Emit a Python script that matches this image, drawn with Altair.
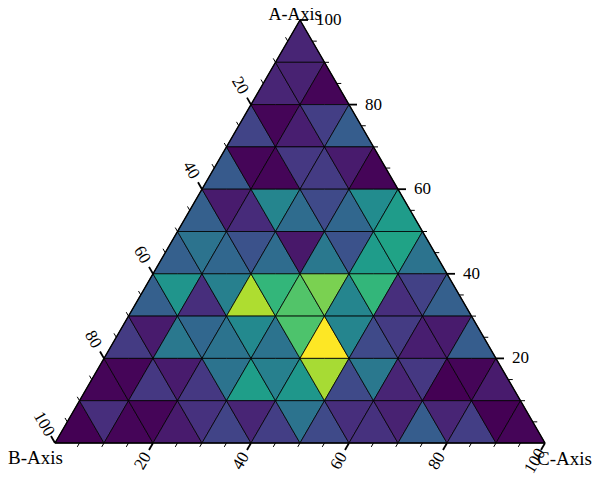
import altair as alt
import numpy as np
import pandas as pd

# colour values (0..1 on the viridis scale), row by row from the top, left to right
row0 = [0.10]
row1 = [0.10, 0.09, 0.01]
row2 = [0.20, 0.01, 0.08, 0.18, 0.29]
row3 = [0.28, 0.01, 0.01, 0.16, 0.17, 0.07, 0.01]
row4 = [0.30, 0.07, 0.12, 0.45, 0.35, 0.22, 0.33, 0.48, 0.55]
row5 = [0.30, 0.38, 0.33, 0.25, 0.35, 0.06, 0.40, 0.25, 0.55, 0.58, 0.38]
row6 = [0.30, 0.52, 0.13, 0.43, 0.88, 0.66, 0.73, 0.80, 0.45, 0.66, 0.13, 0.19, 0.30]
row7 = [0.17, 0.07, 0.40, 0.33, 0.38, 0.47, 0.38, 0.72, 1.00, 0.45, 0.22, 0.17, 0.08, 0.07, 0.29]
row8 = [0.01, 0.01, 0.16, 0.07, 0.16, 0.38, 0.56, 0.43, 0.53, 0.87, 0.22, 0.40, 0.10, 0.16, 0.00, 0.01, 0.07]
row9 = [0.00, 0.13, 0.01, 0.01, 0.07, 0.14, 0.20, 0.10, 0.18, 0.38, 0.22, 0.13, 0.14, 0.09, 0.29, 0.10, 0.18, 0.00, 0.01]
rows = [row0, row1, row2, row3, row4, row5, row6, row7, row8, row9]

major_ticks = [20, 40, 60, 80, 100]
minor_ticks = [5, 10, 15, 25, 30, 35, 45, 50, 55, 65, 70, 75, 85, 90, 95]
tick_labels = ["20", "40", "60", "80", "100"]

FONT = "Liberation Serif"
S3 = np.sqrt(3) / 2

# ternary (A top, B left, C right) -> cartesian
def cart(a, c):
    return c + a / 2.0, a * S3

# ---- cells ----
recs = []
for r, vals in enumerate(rows):
    a_top = 100 - 10 * r
    a_bot = 100 - 10 * (r + 1)
    yt = a_top * S3
    yb = a_bot * S3
    for j, v in enumerate(vals):
        k = j // 2
        tid = f"{r}-{j}"
        if j % 2 == 0:
            xL = cart(a_bot, 10 * k)[0]
            xM = cart(a_top, 10 * k)[0]
            xR = cart(a_bot, 10 * (k + 1))[0]
            pts = [(xL, yb, yb), (xM, yt, yb), (xR, yb, yb)]
        else:
            xL = cart(a_top, 10 * k)[0]
            xR = cart(a_top, 10 * (k + 1))[0]
            xM = cart(a_bot, 10 * (k + 1))[0]
            pts = [(xL, yt, yt), (xM, yb, yt), (xR, yt, yt)]
        for (px, py, py2) in pts:
            recs.append({"tid": tid, "x": px, "y": py, "y2": py2, "v": v})
cells = pd.DataFrame(recs)

# ---- scales (page px: x=0 -> 55, x=100 -> 545; y=0 -> 443, top -> 20) ----
W, H = 584, 466
sx = 4.9
sy = 423 / (100 * S3)
x0p, y0p = 55 - 8, 443 - 8
xs = alt.Scale(domain=[-x0p / sx, (W - x0p) / sx], range=[0, W], nice=False, zero=False)
ys = alt.Scale(domain=[-(H - y0p) / sy, y0p / sy], range=[H, 0], nice=False, zero=False)
X = lambda f: alt.X(f, scale=xs, axis=None)
Y = lambda f: alt.Y(f, scale=ys, axis=None, stack=None)

tri = alt.Chart(cells).mark_area(
    stroke="black", strokeWidth=0.8, opacity=1, interpolate="linear"
).encode(
    x=X("x:Q"), y=Y("y:Q"), y2="y2:Q",
    color=alt.Color("v:Q", scale=alt.Scale(scheme="viridis", domain=[0, 1]), legend=None),
    detail="tid:N",
)

# ---- outline ----
corners = [cart(100, 0), cart(0, 0), cart(0, 100)]
edges = pd.DataFrame([
    {"x": corners[i][0], "y": corners[i][1], "x2": corners[(i + 1) % 3][0], "y2": corners[(i + 1) % 3][1]}
    for i in range(3)
])
outline = alt.Chart(edges).mark_rule(color="black", strokeWidth=1.4).encode(
    x=X("x:Q"), y=Y("y:Q"), x2="x2:Q", y2="y2:Q"
)

# ---- ticks ----
def tick_rows(vals, L):
    out = []
    Lx, Ly = L / sx, L / sy
    for t in vals:
        # A axis (right edge), horizontal
        ex, ey = cart(t, 100 - t)
        out.append({"x": ex, "y": ey, "x2": ex + Lx, "y2": ey})
        # B axis (left edge), up-left
        ex, ey = cart(100 - t, 0)
        out.append({"x": ex, "y": ey, "x2": ex - 0.5 * Lx, "y2": ey + S3 * Ly})
        # C axis (bottom edge), down-left
        ex, ey = cart(0, t)
        out.append({"x": ex, "y": ey, "x2": ex - 0.5 * Lx, "y2": ey - S3 * Ly})
    return pd.DataFrame(out)

maj = alt.Chart(tick_rows(major_ticks, 8)).mark_rule(color="black", strokeWidth=1.8).encode(
    x=X("x:Q"), y=Y("y:Q"), x2="x2:Q", y2="y2:Q"
)
mino = alt.Chart(tick_rows(minor_ticks, 4.5)).mark_rule(color="black", strokeWidth=1).encode(
    x=X("x:Q"), y=Y("y:Q"), x2="x2:Q", y2="y2:Q"
)

# ---- tick labels ----
ra, la, ba = [], [], []
for t, lab in zip(major_ticks, tick_labels):
    ex, ey = cart(t, 100 - t)
    ra.append({"x": ex + 16 / sx, "y": ey, "t": lab})
    ex, ey = cart(100 - t, 0)
    la.append({"x": ex - 11 / sx, "y": ey + 19 / sy, "t": lab})
    ex, ey = cart(0, t)
    ba.append({"x": ex - 10 / sx, "y": ey - 18 / sy, "t": lab})

def labels(df, angle, align):
    return alt.Chart(pd.DataFrame(df)).mark_text(
        font=FONT, fontSize=17, color="black", angle=angle, align=align, baseline="middle"
    ).encode(x=X("x:Q"), y=Y("y:Q"), text="t:N")

lab_r = labels(ra, 0, "left")
lab_l = labels(la, 60, "center")
lab_b = labels(ba, 300, "center")

# ---- axis titles ----
def title(x, ypx, text, align, size=19):
    return alt.Chart(pd.DataFrame([{"x": x, "y": (y0p - ypx) / sy, "t": text}])).mark_text(
        font=FONT, fontSize=size, color="black", align=align, baseline="alphabetic"
    ).encode(x=X("x:Q"), y=Y("y:Q"), text="t:N")

t_a = title(49, 12.0, "A-Axis", "center", 18)
t_b = title(-x0p / sx, 456, "B-Axis", "left")
t_c = title((W - x0p) / sx, 457, "C-Axis", "right")

chart = alt.layer(tri, outline, mino, maj, lab_r, lab_l, lab_b, t_a, t_b, t_c).properties(
    width=W, height=H, padding=0, autosize=alt.AutoSizeParams(type="none"), background="white"
).configure_view(stroke=None)

chart.save("out.html", embed_options={"renderer": "svg", "actions": False})
